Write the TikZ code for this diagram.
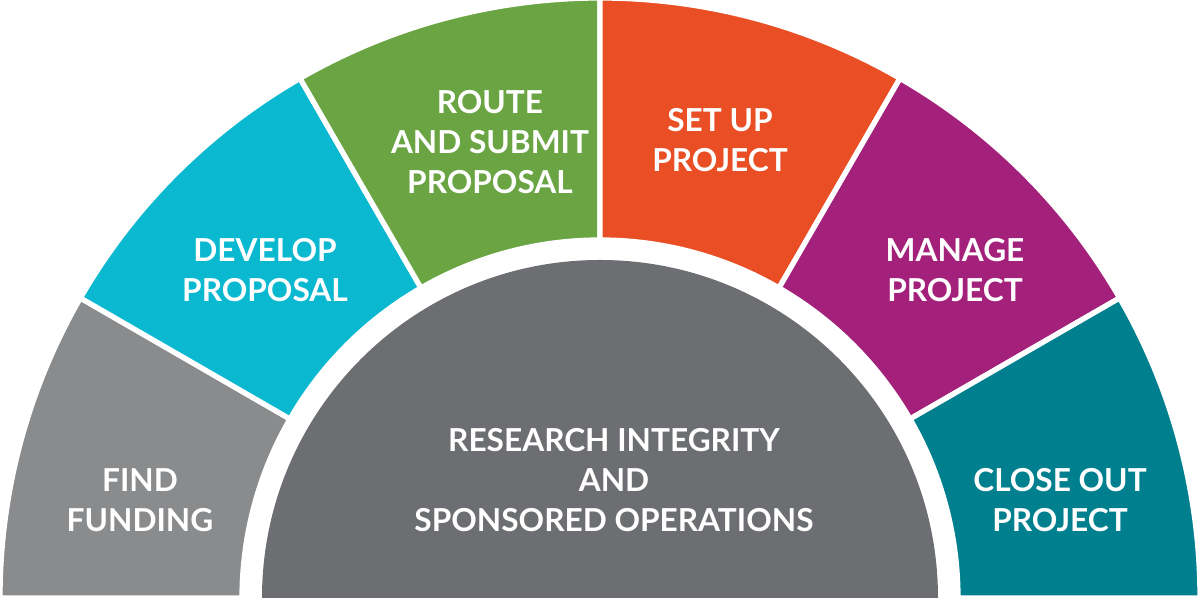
\documentclass[tikz,border=0pt]{standalone}
\usepackage{fontspec}
\setmainfont{Lato}
\definecolor{findgray}{HTML}{8A8B8D}
\definecolor{devcyan}{HTML}{0AB8D0}
\definecolor{routegreen}{HTML}{6AA443}
\definecolor{setorange}{HTML}{E94E24}
\definecolor{managepurple}{HTML}{A3217A}
\definecolor{closeteal}{HTML}{00808F}
\definecolor{coregray}{HTML}{6D6E71}
\tikzset{
  steplabel/.style={text=white, align=center, font=\bfseries\fontsize{9}{11.4}\selectfont}
}
\begin{document}
\begin{tikzpicture}
    \useasboundingbox (0,0) rectangle (12,5.98);
    \clip (0,0) rectangle (12,5.98);

    % Ring sectors
    \foreach \a/\col in {150/findgray, 120/devcyan, 90/routegreen, 60/setorange, 30/managepurple, 0/closeteal} {
        \fill[\col, draw=white, line width=1.5pt] (6,0) ++(\a:3.58) arc (\a:\a+30:3.58) -- ++(\a+30:2.42) arc (\a+30:\a:6) -- cycle;
    }

    % Centre half disc
    \fill[coregray] (2.62,0) arc (180:0:3.38) -- cycle;

    % Labels
    \node[steplabel] (find) at (1.40,0.98) {FIND\\FUNDING};
    \node[steplabel] (develop) at (2.65,3.28) {DEVELOP\\PROPOSAL};
    \node[steplabel] (route) at (4.90,4.56) {ROUTE\\AND SUBMIT\\PROPOSAL};
    \node[steplabel] (setup) at (7.20,4.58) {SET UP\\PROJECT};
    \node[steplabel] (manage) at (9.55,3.28) {MANAGE\\PROJECT};
    \node[steplabel] (close) at (10.60,0.98) {CLOSE OUT\\PROJECT};
    \node[steplabel] (core) at (6.14,1.18) {RESEARCH INTEGRITY\\AND\\SPONSORED OPERATIONS};
\end{tikzpicture}
\end{document}
